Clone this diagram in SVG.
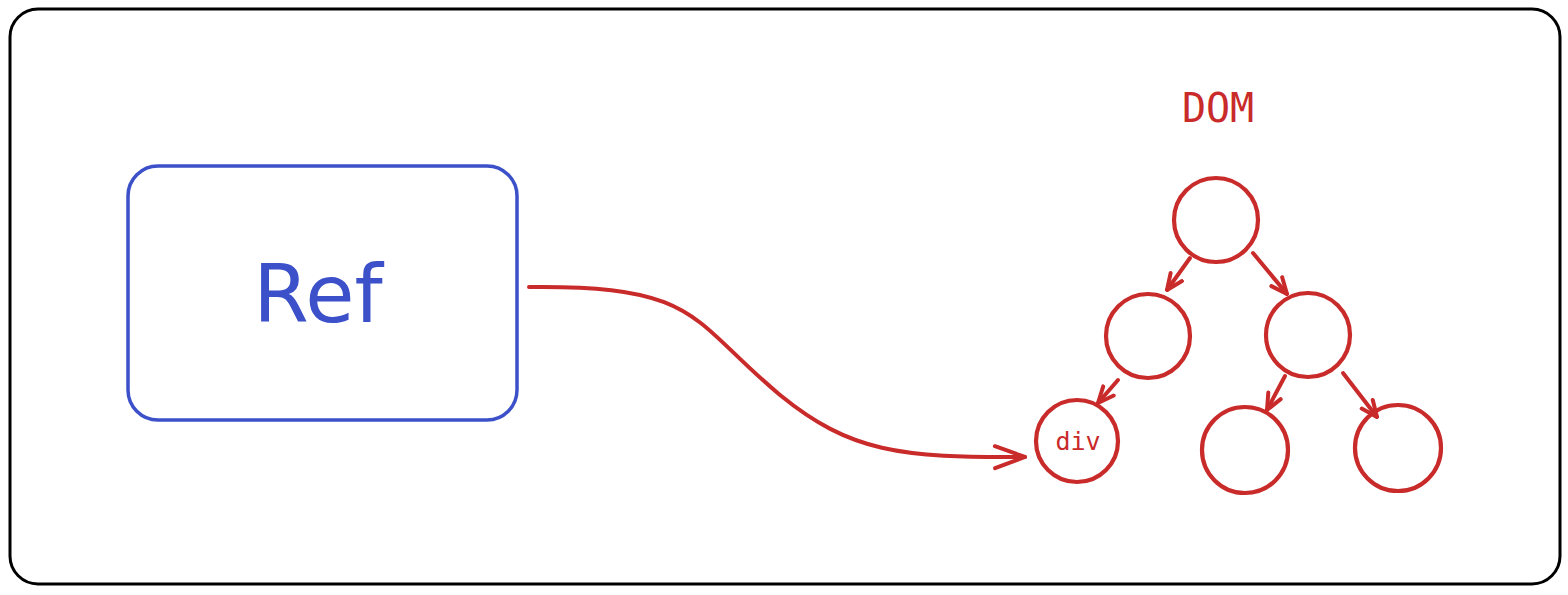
<svg xmlns="http://www.w3.org/2000/svg" width="1568" height="595" viewBox="0 0 1568 595">
<defs>
<style>
.red{stroke:#c92a2a;fill:none;stroke-width:4;stroke-linecap:round;stroke-linejoin:round}
.node{stroke:#c92a2a;fill:none;stroke-width:4.2}
.mono{font-family:"DejaVu Sans Mono","Liberation Mono",monospace;fill:#c92a2a}
</style>
<marker id="open" viewBox="0 0 20 20" refX="18" refY="10" markerWidth="20" markerHeight="20" markerUnits="userSpaceOnUse" orient="auto">
<path d="M2,3 L18,10 L2,17" fill="none" stroke="#c92a2a" stroke-width="4" stroke-linecap="round" stroke-linejoin="round"/>
</marker>
<marker id="big" viewBox="0 0 40 30" refX="35" refY="15" markerWidth="40" markerHeight="30" markerUnits="userSpaceOnUse" orient="auto">
<path d="M5,4 L35,15 L5,26" fill="none" stroke="#c92a2a" stroke-width="4" stroke-linecap="round" stroke-linejoin="round"/>
</marker>
</defs>
<rect x="10" y="9" width="1550" height="575" rx="28" fill="#ffffff" stroke="#000000" stroke-width="3"/>
<g id="ref">
<rect x="128" y="166" width="389" height="254" rx="30" fill="none" stroke="#3b50c9" stroke-width="3.5"/>
<text x="318" y="322" text-anchor="middle" font-family="DejaVu Sans,sans-serif" font-size="80" fill="#3b50c9">Ref</text>
</g>
<g id="dom-label">
<text class="mono" x="1218" y="122" text-anchor="middle" font-size="40">DOM</text>
</g>
<g id="n-root"><circle class="node" cx="1216" cy="220" r="42"/></g>
<g id="n-ml"><circle class="node" cx="1148" cy="336" r="42"/></g>
<g id="n-mr"><circle class="node" cx="1308" cy="335" r="42"/></g>
<g id="n-div"><circle class="node" cx="1077" cy="441" r="41"/><text class="mono" x="1078" y="450" text-anchor="middle" font-size="25">div</text></g>
<g id="n-bm"><circle class="node" cx="1245" cy="450" r="43"/></g>
<g id="n-br"><circle class="node" cx="1398" cy="448" r="43"/></g>
<g id="connectors">
<path class="red" d="M529,287 C700,285 690,320 780,395 C850,452 900,458 1025,457" marker-end="url(#big)"/>
<line class="red" x1="1190" y1="258" x2="1167" y2="290" marker-end="url(#open)"/>
<line class="red" x1="1253" y1="253" x2="1287" y2="294" marker-end="url(#open)"/>
<line class="red" x1="1118" y1="380" x2="1098" y2="403" marker-end="url(#open)"/>
<line class="red" x1="1285" y1="376" x2="1267" y2="410" marker-end="url(#open)"/>
<line class="red" x1="1343" y1="373" x2="1377" y2="417" marker-end="url(#open)"/>
</g>
</svg>
